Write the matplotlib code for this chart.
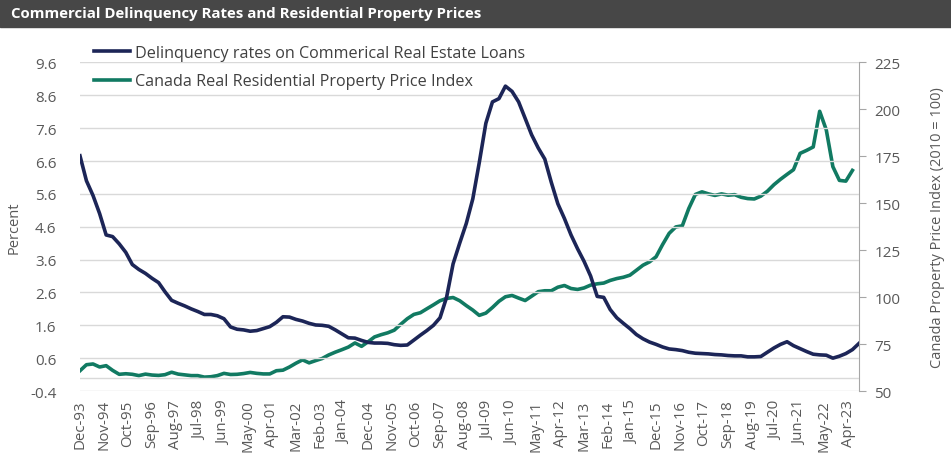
import matplotlib
matplotlib.use('Agg')
import matplotlib.pyplot as plt
import matplotlib.dates as mdates
import pandas as pd

plt.rcParams['font.family'] = ['Open Sans', 'DejaVu Sans']

# quarterly observations, Dec-93 onwards
delinquency = [
    6.76, 6.00, 5.55, 5.00, 4.35, 4.30, 4.08, 3.82, 3.45, 3.30,
    3.18, 3.03, 2.90, 2.62, 2.36, 2.27, 2.19, 2.10, 2.02, 1.93,
    1.93, 1.89, 1.80, 1.55, 1.48, 1.46, 1.42, 1.44, 1.50, 1.56,
    1.69, 1.86, 1.85, 1.78, 1.73, 1.66, 1.61, 1.60, 1.57, 1.46,
    1.34, 1.22, 1.21, 1.14, 1.08, 1.06, 1.06, 1.05, 1.01, 0.99,
    1.00, 1.15, 1.30, 1.44, 1.60, 1.83, 2.45, 3.47, 4.10, 4.70,
    5.45, 6.55, 7.75, 8.40, 8.50, 8.88, 8.72, 8.40, 7.90, 7.40,
    7.00, 6.66, 5.95, 5.30, 4.85, 4.35, 3.93, 3.55, 3.10, 2.48,
    2.45, 2.08, 1.83, 1.66, 1.50, 1.32, 1.19, 1.09, 1.02, 0.94,
    0.88, 0.86, 0.83, 0.78, 0.75, 0.74, 0.73, 0.71, 0.70, 0.68,
    0.67, 0.67, 0.64, 0.64, 0.65, 0.78, 0.91, 1.02, 1.10, 0.98,
    0.89, 0.80, 0.72, 0.70, 0.69, 0.60, 0.66, 0.74, 0.86, 1.05,
]

price_index = [
    60.8, 64.0, 64.4, 62.8, 63.5, 61.0, 58.9, 59.2, 58.9, 58.2,
    59.0, 58.5, 58.3, 58.7, 60.0, 59.0, 58.6, 58.2, 58.2, 57.4,
    57.6, 58.2, 59.4, 58.8, 58.9, 59.3, 59.9, 59.4, 59.1, 59.1,
    60.8, 61.1, 62.8, 64.8, 66.6, 65.0, 66.2, 67.3, 69.2, 70.7,
    72.0, 73.4, 75.6, 73.8, 76.2, 78.8, 80.0, 81.0, 82.4, 85.5,
    88.5, 90.8, 91.7, 93.8, 95.9, 98.1, 99.3, 99.8, 98.1, 95.5,
    93.1, 90.3, 91.5, 94.5, 97.8, 100.2, 100.9, 99.5, 98.2, 100.5,
    102.9, 103.4, 103.4, 105.3, 106.2, 104.6, 104.1, 104.9, 106.4, 107.1,
    107.5, 108.9, 109.9, 110.6, 111.7, 114.3, 117.0, 118.8, 121.5, 128.0,
    134.0, 137.4, 138.0, 147.2, 154.7, 156.1, 155.0, 154.2, 155.0, 154.3,
    154.6, 153.2, 152.5, 152.3, 153.8, 156.4, 159.9, 162.8, 165.4, 167.9,
    176.6, 178.2, 180.0, 199.0, 189.1, 169.5, 162.2, 161.8, 167.5,
]

dates = pd.date_range('1993-12-01', periods=len(delinquency), freq='3MS')
tick_dates = pd.date_range('1993-12-01', '2023-04-01', freq='11MS')
left_ticks = [-0.4, 0.6, 1.6, 2.6, 3.6, 4.6, 5.6, 6.6, 7.6, 8.6, 9.6]
right_ticks = [50, 75, 100, 125, 150, 175, 200, 225]

navy = '#1c2557'
green = '#117a62'
grey = '#595959'

fig = plt.figure(figsize=(9.51, 4.60), dpi=100)
ax = fig.add_axes([0.0841, 0.1478, 0.8192, 0.7142])
ax2 = ax.twinx()

# title bar
fig.patches.append(plt.Rectangle((0, 0.939), 1, 0.061, transform=fig.transFigure,
                                 color='#474747', zorder=0))
fig.text(0.012, 0.969, 'Commercial Delinquency Rates and Residential Property Prices',
         color='white', fontsize=10.8, fontweight='bold', va='center', ha='left')

l1, = ax.plot(dates, delinquency, color=navy, lw=2.6, zorder=3,
              label='Delinquency rates on Commerical Real Estate Loans')
l2, = ax2.plot(dates[:len(price_index)], price_index, color=green, lw=2.6,
               label='Canada Real Residential Property Price Index')
ax.set_zorder(ax2.get_zorder() + 1)
ax.patch.set_visible(False)

ax.set_ylim(-0.4, 9.6)
ax.set_yticks(left_ticks)
ax.set_yticklabels([f'{t:.1f}' for t in left_ticks])
ax2.set_ylim(50, 225)
ax2.set_yticks(right_ticks)
ax.set_xlim(dates[0], dates[-1])

ax.grid(axis='y', color='#d9d9d9', lw=1)
ax.axhline(0, color='#d9d9d9', lw=1)

ax.set_xticks(tick_dates)
ax.xaxis.set_major_formatter(mdates.DateFormatter('%b-%y'))
ax.tick_params(axis='x', rotation=90, length=0, labelsize=10.8, colors=grey, pad=6)
ax.tick_params(axis='y', length=0, labelsize=11, colors=grey, pad=17)
ax2.tick_params(axis='y', length=5, labelsize=11, colors=grey, pad=6, color='#a6a6a6')

for s in ['top', 'left', 'bottom']:
    ax.spines[s].set_visible(False)
    ax2.spines[s].set_visible(False)
ax.spines['right'].set_visible(False)
ax2.spines['right'].set_color('#a6a6a6')

ax.set_ylabel('Percent', color=grey, fontsize=10.5)
ax.yaxis.set_label_coords(-0.0745, 0.5)
ax2.set_ylabel('Canada Property Price Index (2010 = 100)', color=grey, fontsize=10.5)
ax2.yaxis.set_label_coords(1.091, 0.5)

ax.legend(handles=[l1, l2], loc='upper left', bbox_to_anchor=(0.0, 1.097),
          frameon=False, fontsize=11.6, handlelength=2.2, handletextpad=0.3,
          labelspacing=0.75, labelcolor='#404040')

fig.savefig('out.png', dpi=100)
